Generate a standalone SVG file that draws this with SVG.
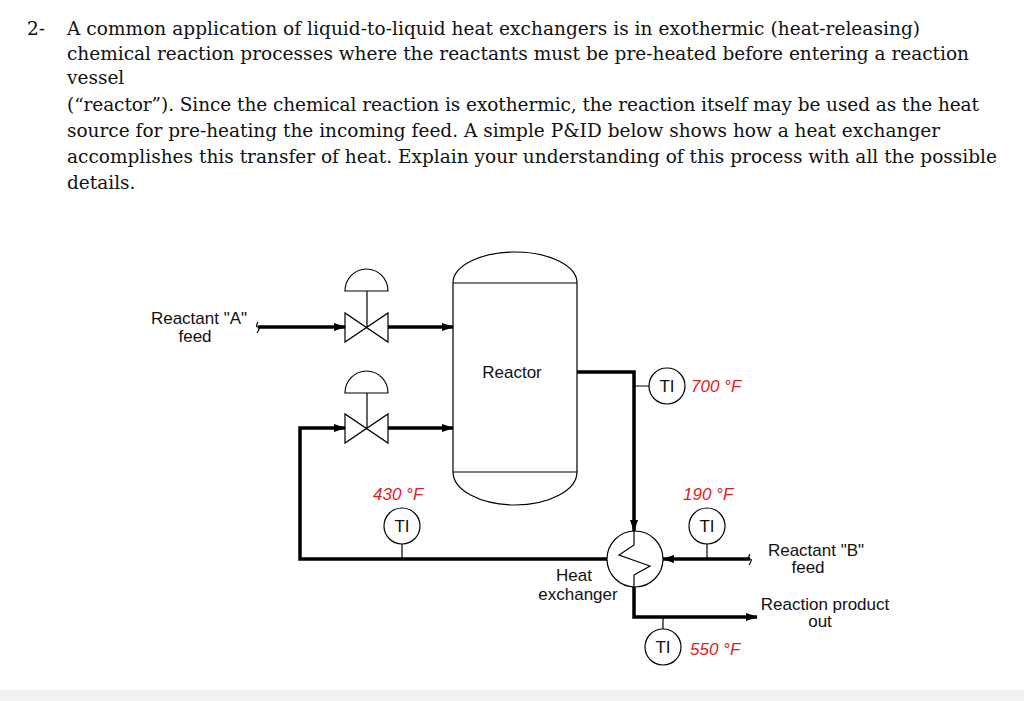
<svg xmlns="http://www.w3.org/2000/svg" width="1024" height="701" viewBox="0 0 1024 701">
<style>
.q{font-family:"DejaVu Serif","Liberation Serif",serif;font-size:18.5px;fill:#111}
.l{font-family:"Liberation Sans",Arial,sans-serif;font-size:17px;fill:#111}
.r{font-family:"Liberation Sans",Arial,sans-serif;font-size:17px;fill:#e02020;font-style:italic}
.p{stroke:#000;stroke-width:3.5;fill:none}
.t{stroke:#000;stroke-width:1.2;fill:none}
.ti{stroke:#000;stroke-width:1.2;fill:#fff}
</style>
<defs><marker id="a" markerWidth="12" markerHeight="8" refX="11" refY="4" orient="auto" markerUnits="userSpaceOnUse"><path d="M0,0L12,4L0,8z" fill="#000"/></marker></defs>
<rect width="1024" height="701" fill="#fff"/>
<rect y="690" width="1024" height="11" fill="#f2f2f2"/>
<g id="question">
<text class="q" x="27" y="35">2-</text>
<text class="q" x="67" y="35" textLength="853">A common application of liquid-to-liquid heat exchangers is in exothermic (heat-releasing)</text>
<text class="q" x="67" y="60" textLength="902">chemical reaction processes where the reactants must be pre-heated before entering a reaction</text>
<text class="q" x="67" y="84">vessel</text>
<text class="q" x="67" y="111" textLength="912">(“reactor”). Since the chemical reaction is exothermic, the reaction itself may be used as the heat</text>
<text class="q" x="67" y="137" textLength="873">source for pre-heating the incoming feed. A simple P&amp;ID below shows how a heat exchanger</text>
<text class="q" x="67" y="163" textLength="930">accomplishes this transfer of heat. Explain your understanding of this process with all the possible</text>
<text class="q" x="67" y="189">details.</text>
</g>
<g id="connectors">
<path class="p" d="M258,327H345" marker-end="url(#a)"/>
<path class="p" d="M388,327H453" marker-end="url(#a)"/>
<path class="p" d="M388,428H453" marker-end="url(#a)"/>
<path class="p" d="M607,559H300V428H345" marker-end="url(#a)"/>
<path class="p" d="M577,372H634V531" marker-end="url(#a)"/>
<path class="p" d="M750,559H663" marker-end="url(#a)"/>
<path class="p" d="M634,587V617H757" marker-end="url(#a)"/>
<path class="t" d="M402,544V559M634,386H649M707,544V559M663,617V629M367,291V327M367,393V428"/>
<path class="t" d="M258,322q-3,5 0,5q3,0 -1,6M750,554q-3,5 0,5q3,0 -1,6"/>
</g>
<g id="valve1"><path class="t" d="M345,291a21.5,22 0 0 1 43,0z"/><path class="t" d="M345,313V342L388,313V342z"/></g>
<g id="valve2"><path class="t" d="M345,393a21.5,22 0 0 1 43,0z"/><path class="t" d="M345,414V443L388,414V443z"/></g>
<g id="reactor">
<path class="t" d="M453,283V472A62,33 0 0 0 577,472V283A62,31 0 0 0 453,283z"/>
<path class="t" d="M453,283H577M453,472H577"/>
<text class="l" x="512" y="378" text-anchor="middle">Reactor</text>
</g>
<g id="hx">
<circle class="ti" cx="635" cy="559" r="28"/>
<path class="t" d="M634,531V545L619,555L650,566L634,575V587"/>
<text class="l" x="574" y="581" text-anchor="middle">Heat</text>
<text class="l" x="578" y="600" text-anchor="middle">exchanger</text>
</g>
<g id="ti430"><circle class="ti" cx="402" cy="526" r="18"/><text class="l" x="402" y="532" text-anchor="middle">TI</text><text class="r" x="373" y="500">430 °F</text></g>
<g id="ti700"><circle class="ti" cx="667" cy="386" r="18"/><text class="l" x="667" y="392" text-anchor="middle">TI</text><text class="r" x="691" y="392">700 °F</text></g>
<g id="ti190"><circle class="ti" cx="707" cy="526" r="18"/><text class="l" x="707" y="532" text-anchor="middle">TI</text><text class="r" x="683" y="500">190 °F</text></g>
<g id="ti550"><circle class="ti" cx="663" cy="647" r="18"/><text class="l" x="663" y="653" text-anchor="middle">TI</text><text class="r" x="690" y="655">550 °F</text></g>
<g id="labels">
<text class="l" x="199" y="324" text-anchor="middle">Reactant "A"</text>
<text class="l" x="195" y="342" text-anchor="middle">feed</text>
<text class="l" x="816" y="556" text-anchor="middle">Reactant "B"</text>
<text class="l" x="808" y="573" text-anchor="middle">feed</text>
<text class="l" x="825" y="610" text-anchor="middle">Reaction product</text>
<text class="l" x="820" y="627" text-anchor="middle">out</text>
</g>
</svg>
